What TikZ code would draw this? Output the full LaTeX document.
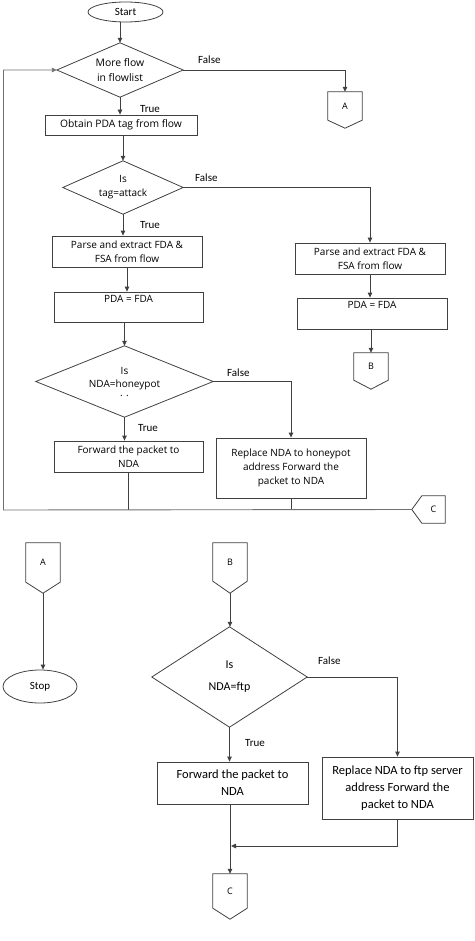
\documentclass[tikz,border=0pt]{standalone}
\usepackage{fontspec}
\setmainfont{Carlito}
\newfontfamily\osans{Open Sans}
\usetikzlibrary{arrows.meta,calc,shapes.geometric}
\definecolor{ln}{HTML}{404040}
\definecolor{lg}{HTML}{707070}
\newcommand\mydiamond[1]{\draw[ln] (#1.north)--(#1.east)--(#1.south)--(#1.west)--cycle;}
\newcommand\offdown[2]{\draw[ln] (#1.north west)--(#1.north east)--(#1.south east)--([yshift=-#2pt]#1.south)--(#1.south west)--cycle;
  \coordinate (#1p) at ([yshift=-#2pt]#1.south);}
\begin{document}
\begin{tikzpicture}[x=1pt,y=-1pt,
  ln/.style={draw=ln,line width=0.8pt},
  arr/.style={ln,-{Triangle[length=5pt,width=4.5pt]}},
  box/.style={ln,rectangle,inner sep=1pt,align=center,font=\osans\fontsize{10}{14}\selectfont},
  boxb/.style={ln,rectangle,inner sep=1pt,align=center,font=\fontsize{12.5}{17}\selectfont},
  term/.style={ln,ellipse,inner sep=0pt,font=\fontsize{11}{13}\selectfont},
  dia/.style={rectangle,inner sep=0pt,align=center,font=\fontsize{11}{14}\selectfont},
  conn/.style={rectangle,inner sep=0pt,font=\osans\fontsize{9}{11}\selectfont},
  lab/.style={inner sep=0pt,font=\fontsize{11}{13}\selectfont}]
\useasboundingbox (0,0) rectangle (474,941);
% --- top part ---
\node[term,minimum width=75pt,minimum height=20pt] (start) at (125.5,12) {Start};
\node[dia,minimum width=126pt,minimum height=54pt,font=\osans\fontsize{10.4}{15}\selectfont] (d1) at (120,70) {More flow\\in flowlist};
\mydiamond{d1}
\node[box,minimum width=152pt,minimum height=20pt,font=\osans\fontsize{10.3}{14}\selectfont] (o1) at (121,125) {Obtain PDA tag from flow};
\node[dia,minimum width=120pt,minimum height=53pt,font=\osans\fontsize{10}{14}\selectfont] (d2) at (123,187.5) {Is\\tag=attack};
\mydiamond{d2}
\node[box,minimum width=150pt,minimum height=31pt] (p1) at (127,251.5) {Parse and extract FDA \&\\FSA from flow};
\node[box,minimum width=149pt,minimum height=30pt] (q1) at (128.5,307) {PDA = FDA\\[3pt]\mbox{}};
\node[dia,minimum width=177pt,minimum height=71pt,font=\osans\fontsize{10}{13}\selectfont] (d3) at (124.5,381.5) {Is\\NDA=honeypot\\[-4pt]. .};
\mydiamond{d3}
\node[box,minimum width=149pt,minimum height=31pt] (f1) at (128.5,456.5) {Forward the packet to\\NDA};
\node[box,minimum width=150pt,minimum height=60pt] (r1) at (291,468) {Replace NDA to honeypot\\address Forward the\\packet to NDA};
\node[box,minimum width=150pt,minimum height=31pt] (p2) at (370,258.5) {Parse and extract FDA \&\\FSA from flow};
\node[box,minimum width=150pt,minimum height=31pt] (q2) at (372,313.5) {PDA = FDA\\[3pt]\mbox{}};
\node[conn,minimum width=34pt,minimum height=28pt] (A) at (345,106) {A};
\offdown{A}{8}
\node[conn,minimum width=34pt,minimum height=27pt] (B) at (371,366.5) {B};
\offdown{B}{9}
\node[conn,minimum width=23pt,minimum height=27pt] (C) at (433.5,509.5) {C};
\draw[ln] (C.north west)--(C.north east)--(C.south east)--(C.south west)--([xshift=-10pt]C.west)--cycle;
\coordinate (Cp) at ([xshift=-10pt]C.west);
\coordinate (loopB) at (3.5,510);
% connectors top
\draw[arr] (d1.north |- start.south) -- (d1.north);
\draw[arr] (d1.east) -- (A.north |- d1.east) -- (A.north);
\node[lab,anchor=south west] (fl1) at (198,64) {False};
\draw[arr] (d1.south) -- (d1.south |- o1.north);
\node[lab,anchor=south west] (tr1) at (140,113) {True};
\draw[arr] (d2.north |- o1.south) -- (d2.north);
\draw[arr] (d2.east) -- (p2.north |- d2.east) -- (p2.north);
\node[lab,anchor=south west] (fl2) at (195,182) {False};
\draw[arr] (d2.south) -- (d2.south |- p1.north);
\node[lab,anchor=south west] (tr2) at (140,229) {True};
\draw[arr] (p1.south) -- (p1.south |- q1.north);
\draw[arr] (d3.north |- q1.south) -- (d3.north);
\draw[arr] (d3.east) -- (r1.north |- d3.east) -- (r1.north);
\node[lab,anchor=south west] (fl3) at (227,377) {False};
\draw[arr] (d3.south) -- (d3.south |- f1.north);
\node[lab,anchor=south west] (tr3) at (138,432) {True};
\draw[arr] (p2.south) -- (p2.south |- q2.north);
\draw[arr] (q2.south -| B.north) -- (B.north);
\draw[ln] (f1.south) -- (f1.south |- Cp);
\draw[ln] (r1.south) -- (r1.south |- Cp);
\draw[draw=lg,line width=0.9pt,-{Triangle[length=5pt,width=4.5pt]}] (Cp) -- (loopB) -- (loopB |- d1.west) -- (d1.west);
% --- bottom part ---
\node[conn,minimum width=34pt,minimum height=39pt] (A2) at (43,562.5) {A};
\offdown{A2}{11}
\node[term,minimum width=74pt,minimum height=33pt] (stop) at (40,686.5) {Stop};
\draw[arr] (A2p) -- (A2p |- stop.north);
\node[conn,minimum width=34pt,minimum height=38pt] (B2) at (230,562) {B};
\offdown{B2}{12}
\node[dia,minimum width=155pt,minimum height=100pt,font=\fontsize{12}{22}\selectfont] (d4) at (229.5,677) {Is\\NDA=ftp};
\mydiamond{d4}
\draw[arr] (B2p) -- (B2p |- d4.north);
\node[boxb,minimum width=151pt,minimum height=42pt] (f2) at (232.5,783) {Forward the packet to\\NDA};
\node[boxb,minimum width=151pt,minimum height=62pt] (r2) at (397.5,788) {Replace NDA to ftp server\\address Forward the\\packet to NDA};
\node[conn,minimum width=34pt,minimum height=34pt] (C2) at (230,891) {C};
\offdown{C2}{11}
\draw[arr] (d4.east) -- (r2.north |- d4.east) -- (r2.north);
\node[lab,anchor=south west] (fl4) at (318,665) {False};
\draw[arr] (d4.south) -- (d4.south |- f2.north);
\node[lab,anchor=south west] (tr4) at (245,747) {True};
\draw[arr] (f2.south -| C2.north) -- (C2.north);
\coordinate (mrg) at (231,846);
\draw[arr] (r2.south) -- (r2.south |- mrg) -- (mrg);
\end{tikzpicture}
\end{document}
